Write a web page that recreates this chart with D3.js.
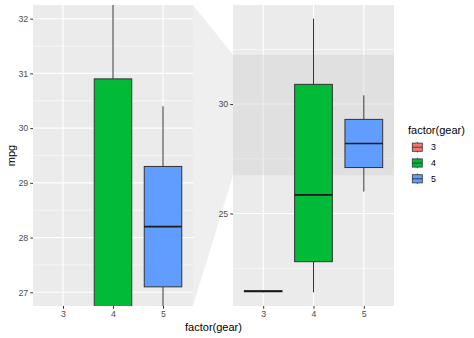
<!DOCTYPE html>
<html><head><meta charset="utf-8">
<script src="https://cdn.jsdelivr.net/npm/d3@7"></script>
<style>body{margin:0;background:#fff}svg{display:block}text{font-family:"Liberation Sans",Arial,sans-serif}</style>
</head><body><svg id="c" width="474" height="338"></svg>
<script>
const gears = ["3","4","5"];
const colors = ["#F8766D","#00BA38","#619CFF"];
const whiskLo = [21.4, 21.4, 26.0];
const q1 = [21.425, 22.8, 27.1];
const med = [21.45, 25.85, 28.2];
const q3 = [21.475, 30.9, 29.3];
const whiskHi = [21.5, 33.9, 30.4];
const zoomLim = [27, 32];
const fullLim = [21.4, 33.9];
const zoomTicks = [27,28,29,30,31,32];
const zoomMinor = [27.5,28.5,29.5,30.5,31.5];
const fullTicks = [25,30];
const fullMinor = [22.5,27.5,32.5];

(function(){
const svg = d3.select("#c");
const expand = l => { const d=(l[1]-l[0])*0.05; return [l[0]-d,l[1]+d]; };
const pTop=5, pBot=306;
const panels = [
  {x0:33, x1:193, dom:expand(zoomLim), ticks:zoomTicks, minor:zoomMinor, id:"L"},
  {x0:233, x1:394, dom:expand(fullLim), ticks:fullTicks, minor:fullMinor, id:"R"}
];
panels.forEach(p=>{
  p.y = d3.scaleLinear().domain(p.dom).range([pBot, pTop]);
  const unit = (p.x1-p.x0)/3.2;
  p.x = d3.scalePoint().domain(gears).range([p.x0+0.6*unit, p.x1-0.6*unit]);
  p.cx = g => p.x(g);
  p.bw = 0.75*unit;
});
const L=panels[0], R=panels[1];

const band = [R.y(L.dom[1]), R.y(L.dom[0])];
svg.append("path").attr("d", d3.line()([[L.x1,pTop],[R.x0,band[0]],[R.x0,band[1]],[L.x1,pBot]]))
  .attr("fill","#bebebe").attr("fill-opacity",0.25);

panels.forEach(p=>{
  const g = svg.append("g");
  g.append("rect").attr("x",p.x0).attr("y",pTop).attr("width",p.x1-p.x0).attr("height",pBot-pTop).attr("fill","#EBEBEB");
  g.selectAll(".mn").data(p.minor).join("line").attr("x1",p.x0).attr("x2",p.x1)
    .attr("y1",d=>p.y(d)).attr("y2",d=>p.y(d)).attr("stroke","#fff").attr("stroke-width",0.55);
  g.selectAll(".mj").data(p.ticks).join("line").attr("x1",p.x0).attr("x2",p.x1)
    .attr("y1",d=>p.y(d)).attr("y2",d=>p.y(d)).attr("stroke","#fff").attr("stroke-width",1.1);
  g.selectAll(".vx").data(gears).join("line").attr("y1",pTop).attr("y2",pBot)
    .attr("x1",d=>p.cx(d)).attr("x2",d=>p.cx(d)).attr("stroke","#fff").attr("stroke-width",1.1);
  if(p.id==="R"){
    g.append("rect").attr("x",p.x0).attr("y",band[0]).attr("width",p.x1-p.x0).attr("height",band[1]-band[0])
      .attr("fill","#bebebe").attr("fill-opacity",0.25);
  }
  svg.append("clipPath").attr("id","clip"+p.id).append("rect")
    .attr("x",p.x0).attr("y",pTop).attr("width",p.x1-p.x0).attr("height",pBot-pTop);
  const bx = g.append("g").attr("clip-path","url(#clip"+p.id+")");
  gears.forEach((k,i)=>{
    const c=p.cx(k), hw=p.bw/2;
    bx.append("line").attr("x1",c).attr("x2",c).attr("y1",p.y(q3[i])).attr("y2",p.y(whiskHi[i])).attr("stroke","#333").attr("stroke-width",1);
    bx.append("line").attr("x1",c).attr("x2",c).attr("y1",p.y(q1[i])).attr("y2",p.y(whiskLo[i])).attr("stroke","#333").attr("stroke-width",1);
    bx.append("rect").attr("x",c-hw).attr("width",p.bw).attr("y",p.y(q3[i])).attr("height",Math.max(0,p.y(q1[i])-p.y(q3[i])))
      .attr("fill",colors[i]).attr("stroke","#333").attr("stroke-width",1);
    bx.append("line").attr("x1",c-hw).attr("x2",c+hw).attr("y1",p.y(med[i])).attr("y2",p.y(med[i])).attr("stroke","#1a1a1a").attr("stroke-width",1.6);
  });
  const ya = svg.append("g").attr("transform",`translate(${p.x0},0)`)
    .call(d3.axisLeft(p.y).tickValues(p.ticks).tickSize(2.75).tickPadding(2).tickFormat(d3.format("d")));
  ya.select(".domain").remove();
  ya.selectAll("line").attr("stroke","#333");
  ya.selectAll("text").attr("fill","#4D4D4D").attr("font-size","8.8px").attr("font-family","Liberation Sans, Arial, sans-serif");
  const xa = svg.append("g").attr("transform",`translate(0,${pBot})`)
    .call(d3.axisBottom(p.x).tickSize(2.75).tickPadding(2));
  xa.select(".domain").remove();
  xa.selectAll("line").attr("stroke","#333");
  xa.selectAll("text").attr("fill","#4D4D4D").attr("font-size","8.8px").attr("font-family","Liberation Sans, Arial, sans-serif");
});

svg.append("text").attr("x",(L.x0+R.x1)/2).attr("y",331).attr("text-anchor","middle").attr("font-size","11px").attr("fill","#000").text("factor(gear)");
svg.append("text").attr("transform",`translate(14.5,${(pTop+pBot)/2}) rotate(-90)`).attr("text-anchor","middle").attr("font-size","11px").attr("fill","#000").text("mpg");

const lg = svg.append("g");
lg.append("text").attr("x",408).attr("y",133.5).attr("font-size","11px").text("factor(gear)");
gears.forEach((k,i)=>{
  const cy = 147.2 + i*15.8, cx = 417.3;
  lg.append("line").attr("x1",cx).attr("x2",cx).attr("y1",cy-5.3).attr("y2",cy+5.3).attr("stroke","#333").attr("stroke-width",0.8);
  lg.append("rect").attr("x",cx-5).attr("y",cy-4.1).attr("width",10).attr("height",8.2).attr("fill",colors[i]).attr("stroke","#333").attr("stroke-width",0.8);
  lg.append("line").attr("x1",cx-5).attr("x2",cx+5).attr("y1",cy).attr("y2",cy).attr("stroke","#333").attr("stroke-width",0.9);
  lg.append("text").attr("x",431).attr("y",cy+3.2).attr("font-size","8.8px").attr("fill","#000").text(k);
});
})();
</script></body></html>
